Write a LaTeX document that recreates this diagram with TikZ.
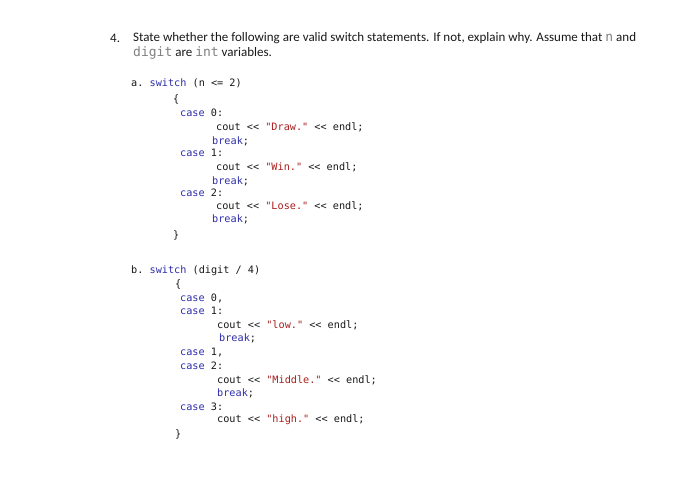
\documentclass[tikz,border=0pt]{standalone}
\usepackage{fontspec}
\setmainfont{Carlito}
\setmonofont{DejaVu Sans Mono}
\definecolor{kw}{RGB}{45,45,170}
\definecolor{str}{RGB}{170,30,30}
\definecolor{txt}{RGB}{25,25,25}
\newcommand{\K}[1]{\textcolor{kw}{#1}}
\newcommand{\Sr}[1]{\textcolor{str}{#1}}
\begin{document}
\begin{tikzpicture}[x=1pt,y=-1pt,
  body/.style={anchor=west,inner sep=0pt,font=\fontsize{13}{15}\selectfont,text=txt},
  code/.style={anchor=west,inner sep=0pt,font=\fontsize{10.2}{12}\ttfamily,text=txt}]
\useasboundingbox[fill=white] (0,0) rectangle (700,489);
\node[body] (n4) at (110,38) {4.};
\node[body] (t1) at (133,38) {State whether the following are valid switch statements. If not, explain why. Assume that {\ttfamily\color{gray}n} and};
\node[body] (t2) at (133,53) {{\ttfamily\color{gray}digit} are {\ttfamily\color{gray}int} variables.};
\node[code] (a) at (131,83) {a.\ \K{switch} (n <= 2)};
\node[code] (a1) at (173,99) {\{};
\node[code] (a2) at (180,113) {\K{case} 0:};
\node[code] (a3) at (216,127) {cout << \Sr{"Draw."} << endl;};
\node[code] (a4) at (212,141) {\K{break};};
\node[code] (a5) at (180,153) {\K{case} 1:};
\node[code] (a6) at (216,167) {cout << \Sr{"Win."} << endl;};
\node[code] (a7) at (212,181) {\K{break};};
\node[code] (a8) at (180,193) {\K{case} 2:};
\node[code] (a9) at (216,206) {cout << \Sr{"Lose."} << endl;};
\node[code] (a10) at (212,219) {\K{break};};
\node[code] (a11) at (173,235) {\}};
\node[code] (b) at (131,271) {b.\ \K{switch} (digit / 4)};
\node[code] (b1) at (175,284) {\{};
\node[code] (b2) at (180,298) {\K{case} 0,};
\node[code] (b3) at (180,311) {\K{case} 1:};
\node[code] (b4) at (217,325) {cout << \Sr{"low."} << endl;};
\node[code] (b5) at (219,338) {\K{break};};
\node[code] (b6) at (180,352) {\K{case} 1,};
\node[code] (b7) at (180,366) {\K{case} 2:};
\node[code] (b8) at (217,380) {cout << \Sr{"Middle."} << endl;};
\node[code] (b9) at (217,393) {\K{break};};
\node[code] (b10) at (180,407) {\K{case} 3:};
\node[code] (b11) at (217,420) {cout << \Sr{"high."} << endl;};
\node[code] (b12) at (175,434) {\}};
\end{tikzpicture}
\end{document}
